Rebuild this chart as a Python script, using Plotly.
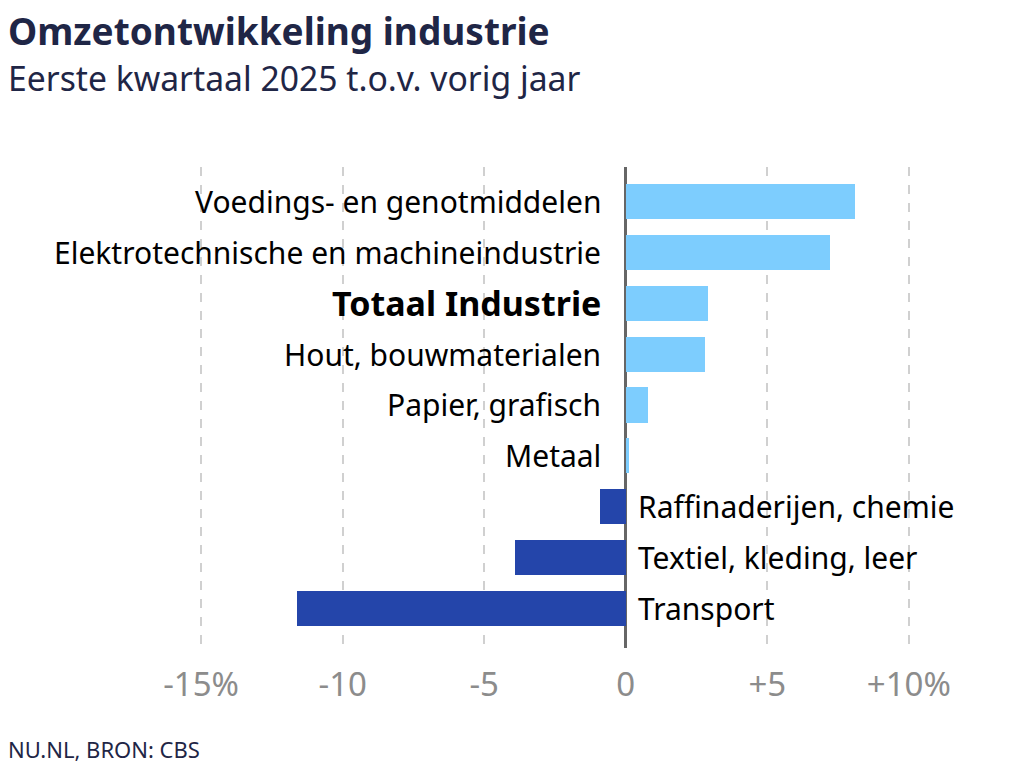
import plotly.graph_objects as go

categories = [
    "Voedings- en genotmiddelen",
    "Elektrotechnische en machineindustrie",
    "Totaal Industrie",
    "Hout, bouwmaterialen",
    "Papier, grafisch",
    "Metaal",
    "Raffinaderijen, chemie",
    "Textiel, kleding, leer",
    "Transport",
]
values = [8.1, 7.2, 2.9, 2.8, 0.8, 0.1, -0.9, -3.9, -11.6]
bold_categories = ["Totaal Industrie"]
tick_values = [-15, -10, -5, 0, 5, 10]
tick_labels = ["-15%", "-10", "-5", "0", "+5", "+10%"]

LIGHT = "#7dcdfe"
DARK = "#2445aa"
TEXT = "#000000"
NAVY = "#1f2646"

# plot area in pixels
L, R, T, B = 187, 923, 167, 648


def px(x):
    return (x - L) / (R - L)


def py(y):
    return (B - y) / (B - T)


positions = list(range(len(categories)))
colors = [LIGHT if v >= 0 else DARK for v in values]

fig = go.Figure()
fig.add_trace(go.Bar(
    x=values, y=positions, orientation="h",
    marker=dict(color=colors, line=dict(width=0)),
    width=0.69, hoverinfo="skip",
))

annotations = []
for pos, cat, v in zip(positions, categories, values):
    is_bold = cat in bold_categories
    txt = f"<b>{cat}</b>" if is_bold else cat
    size = 34 if is_bold else 30
    if v >= 0:
        annotations.append(dict(x=0, y=pos, xref="x", yref="y", text=txt,
                                xanchor="right", yanchor="middle", xshift=-23,
                                showarrow=False,
                                font=dict(family="Noto Sans", size=size, color=TEXT)))
    else:
        annotations.append(dict(x=0, y=pos, xref="x", yref="y", text=txt,
                                xanchor="left", yanchor="middle", xshift=10,
                                showarrow=False,
                                font=dict(family="Noto Sans", size=size, color=TEXT)))

annotations += [
    dict(x=px(6), y=py(30), xref="paper", yref="paper",
         text="<b>Omzetontwikkeling industrie</b>", showarrow=False,
         xanchor="left", yanchor="middle",
         font=dict(family="Noto Sans", size=37, color=NAVY)),
    dict(x=px(6), y=py(78), xref="paper", yref="paper",
         text="Eerste kwartaal 2025 t.o.v. vorig jaar", showarrow=False,
         xanchor="left", yanchor="middle",
         font=dict(family="Noto Sans", size=33.7, color=NAVY)),
    dict(x=px(6), y=py(749), xref="paper", yref="paper",
         text="NU.NL, BRON: CBS", showarrow=False,
         xanchor="left", yanchor="middle",
         font=dict(family="Noto Sans", size=22, color=NAVY)),
]

fig.update_layout(
    width=1024, height=768,
    paper_bgcolor="white", plot_bgcolor="white",
    margin=dict(l=L, r=1024 - R, t=T, b=768 - B, autoexpand=False),
    showlegend=False,
    bargap=0,
    annotations=annotations,
    xaxis=dict(
        range=[-15.5, 10.5], tickvals=tick_values, ticktext=tick_labels,
        showgrid=True, gridcolor="#d0d0d0", griddash="dash", gridwidth=1.5,
        zeroline=True, zerolinecolor="#666666", zerolinewidth=2.5,
        showline=False, ticks="", ticklabelstandoff=14,
        tickfont=dict(family="Noto Sans", size=33, color="#8c8c8c"),
        fixedrange=True,
    ),
    yaxis=dict(
        range=[8.78, -0.68], showticklabels=False, showgrid=False,
        zeroline=False, showline=False, ticks="", fixedrange=True,
    ),
)

fig.write_html("out.html")
